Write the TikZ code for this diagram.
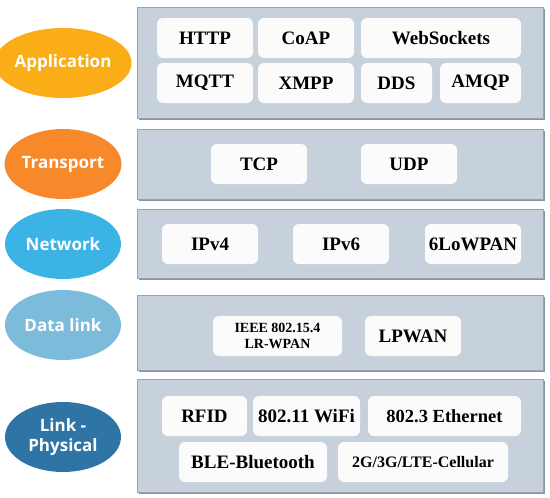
\documentclass[tikz,border=0pt]{standalone}
\usepackage{fontspec}
\setmainfont{Liberation Serif}
\newfontfamily\layerfont{Open Sans}
\usetikzlibrary{shapes.geometric,shadows}
\definecolor{appcol}{HTML}{FBAD18}
\definecolor{transcol}{HTML}{F7892B}
\definecolor{netcol}{HTML}{3BB4E5}
\definecolor{linkcol}{HTML}{7DBBDB}
\definecolor{physcol}{HTML}{2E75A6}
\definecolor{panelfill}{HTML}{C6D1DC}
\definecolor{panelline}{HTML}{97A3AF}
\definecolor{panelshadow}{HTML}{8894A1}
\definecolor{boxfill}{HTML}{FBFBFB}
\begin{document}
\begin{tikzpicture}[x=1pt, y=-1pt,
    layer/.style={rectangle, draw=panelline, fill=panelfill, anchor=north west, inner sep=0pt,
        drop shadow={shadow xshift=2pt, shadow yshift=-2pt, fill=panelshadow, opacity=1}},
    proto/.style={rectangle, rounded corners=6pt, fill=boxfill, minimum height=40pt, inner sep=0pt,
        align=center, font=\bfseries\fontsize{19}{21}\selectfont},
    tag/.style={ellipse, minimum width=116pt, minimum height=70pt, inner sep=0pt, text=white,
        align=center, font=\layerfont\bfseries\fontsize{17}{20}\selectfont}
]
\useasboundingbox (0,0) rectangle (550,498);

% layer panels
\node[layer, minimum width=406pt, minimum height=111pt] (papp) at (137,7) {};
\node[layer, minimum width=406pt, minimum height=70pt] (ptrans) at (137,129) {};
\node[layer, minimum width=406pt, minimum height=69pt] (pnet) at (137,209) {};
\node[layer, minimum width=406pt, minimum height=75pt] (plink) at (137,295) {};
\node[layer, minimum width=406pt, minimum height=113pt] (pphys) at (137,379) {};

% layer names
\node[tag, fill=appcol] (app) at (63,63) {Application};
\node[tag, fill=transcol] (trans) at (63,164) {Transport};
\node[tag, fill=netcol] (net) at (63,244) {Network};
\node[tag, fill=linkcol] (link) at (63,325) {Data link};
\node[tag, fill=physcol] (phys) at (63,437) {Link -\\Physical};

% application
\node[proto, minimum width=96pt] (http) at (205,38) {HTTP};
\node[proto, minimum width=96pt] (coap) at (306,38) {CoAP};
\node[proto, minimum width=160pt] (ws) at (441,38) {WebSockets};
\node[proto, minimum width=96pt] (mqtt) at (205,83) {MQTT};
\node[proto, minimum width=96pt] (xmpp) at (306,83) {XMPP};
\node[proto, minimum width=71pt] (dds) at (396.5,83) {DDS};
\node[proto, minimum width=81pt] (amqp) at (480.5,83) {AMQP};

% transport
\node[proto, minimum width=96pt] (tcp) at (259,164) {TCP};
\node[proto, minimum width=96pt] (udp) at (409,164) {UDP};

% network
\node[proto, minimum width=96pt] (ipv4) at (210,244) {IPv4};
\node[proto, minimum width=96pt] (ipv6) at (341,244) {IPv6};
\node[proto, minimum width=96pt] (lowpan) at (473,244) {6LoWPAN};

% data link
\node[proto, minimum width=129pt, font=\bfseries\fontsize{14}{16}\selectfont] (ieee) at (277.5,336) {IEEE 802.15.4\\LR-WPAN};
\node[proto, minimum width=96pt] (lpwan) at (413,336) {LPWAN};

% link - physical
\node[proto, minimum width=85pt] (rfid) at (204.5,416) {RFID};
\node[proto, minimum width=107pt] (wifi) at (306.5,416) {802.11 WiFi};
\node[proto, minimum width=153pt, font=\bfseries\fontsize{18.5}{20}\selectfont] (eth) at (444.5,416) {802.3 Ethernet};
\node[proto, minimum width=148pt] (ble) at (253,462) {BLE-Bluetooth};
\node[proto, minimum width=170pt, font=\bfseries\fontsize{16}{18}\selectfont] (cell) at (423,462) {2G/3G/LTE-Cellular};
\end{tikzpicture}
\end{document}
